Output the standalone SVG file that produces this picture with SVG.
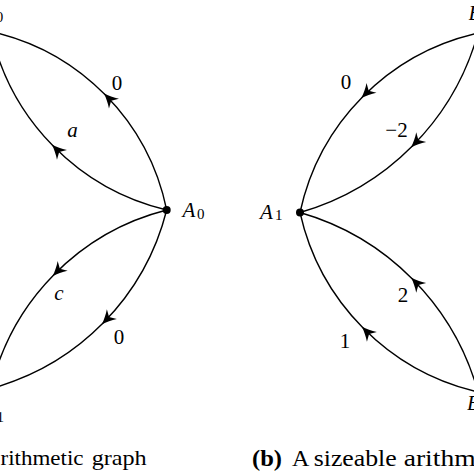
<svg xmlns="http://www.w3.org/2000/svg" width="474" height="474" viewBox="0 0 474 474">
<style>
.edge{fill:none;stroke:#000;stroke-width:1.4;marker-mid:url(#arr)}
.dot{fill:#000}
.lbl{font-family:"Liberation Serif","DejaVu Serif",serif;font-size:21px;fill:#000}
.it{font-style:italic}
.sub{font-family:"Liberation Serif","DejaVu Serif",serif;font-size:15px;fill:#000}
.cap{font-family:"Liberation Serif","DejaVu Serif",serif;fill:#000}
</style>
<defs>
<marker id="arr" markerUnits="userSpaceOnUse" viewBox="-16 -8 20 16" refX="0" refY="0" markerWidth="20" markerHeight="16" orient="auto" overflow="visible">
<path d="M2,0 C-3,-1.6 -8,-4 -12.5,-7 L-8.5,0 L-12.5,7 C-8,4 -3,1.6 2,0 Z" fill="#000"/>
</marker>
</defs>
<g id="connectors">
<path class="edge" d="M166.7,210 A230.5,230.5 0 0 0 105.2,94.8 A230.5,230.5 0 0 0 -9,31.5"/>
<path class="edge" d="M166.7,210 A235.9,235.9 0 0 1 53.2,146 A235.9,235.9 0 0 1 -9,31.5"/>
<path class="edge" d="M166.7,210 A241.6,241.6 0 0 0 53.9,274.7 A241.6,241.6 0 0 0 -9,388.5"/>
<path class="edge" d="M166.7,210 A247.7,247.7 0 0 1 103.1,323.1 A247.7,247.7 0 0 1 -9,388.5"/>
<path class="edge" d="M478,33 A234.4,234.4 0 0 0 362.7,96.7 A234.4,234.4 0 0 0 300,212.5"/>
<path class="edge" d="M478,33 A258.6,258.6 0 0 1 412.4,146 A258.6,258.6 0 0 1 300,212.5"/>
<path class="edge" d="M478,392 A258.6,258.6 0 0 0 412.4,279 A258.6,258.6 0 0 0 300,212.5"/>
<path class="edge" d="M478,392 A237.1,237.1 0 0 1 363.1,328 A237.1,237.1 0 0 1 300,212.5"/>
<text class="lbl" x="117" y="90" text-anchor="middle">0</text>
<text class="lbl it" x="72.5" y="136.5" text-anchor="middle">a</text>
<text class="lbl it" x="59" y="300" text-anchor="middle">c</text>
<text class="lbl" x="119" y="343.5" text-anchor="middle">0</text>
<text class="lbl" x="346" y="89" text-anchor="middle">0</text>
<text class="lbl" x="396.5" y="137" text-anchor="middle">−2</text>
<text class="lbl" x="403" y="302" text-anchor="middle">2</text>
<text class="lbl" x="345" y="347.5" text-anchor="middle">1</text>
</g>
<g id="node-A0">
<circle class="dot" cx="166.7" cy="210" r="4"/>
<text class="lbl it" x="182.5" y="216.7">A</text>
<text class="sub" x="197" y="219">0</text>
</g>
<g id="node-B0">
<circle class="dot" cx="-9" cy="31.5" r="4"/>
<text class="sub" x="-4.2" y="21.5">0</text>
</g>
<g id="node-B1">
<circle class="dot" cx="-9" cy="388.5" r="4"/>
<text class="sub" x="-3.5" y="421.5">1</text>
</g>
<g id="node-A1">
<circle class="dot" cx="300" cy="212.5" r="4"/>
<text class="lbl it" x="260" y="218.5">A</text>
<text class="sub" x="275" y="220">1</text>
</g>
<g id="node-B2">
<circle class="dot" cx="478" cy="33" r="4"/>
<text class="lbl it" x="468.5" y="20">B</text>
</g>
<g id="node-B3">
<circle class="dot" cx="478" cy="392" r="4"/>
<text class="lbl it" x="467" y="410">B</text>
</g>
<g id="captions">
<text class="cap" y="465" font-size="22"><tspan x="0.5" textLength="83" lengthAdjust="spacingAndGlyphs">rithmetic</tspan><tspan x="91.7" textLength="55" lengthAdjust="spacingAndGlyphs">graph</tspan></text>
<text class="cap" y="465.5" font-size="24"><tspan x="252" font-weight="bold" textLength="30" lengthAdjust="spacingAndGlyphs">(b)</tspan><tspan x="292">A</tspan><tspan x="313.7" textLength="83" lengthAdjust="spacingAndGlyphs">sizeable</tspan><tspan x="403.7" textLength="72" lengthAdjust="spacingAndGlyphs">arithm</tspan></text>
</g>
</svg>
